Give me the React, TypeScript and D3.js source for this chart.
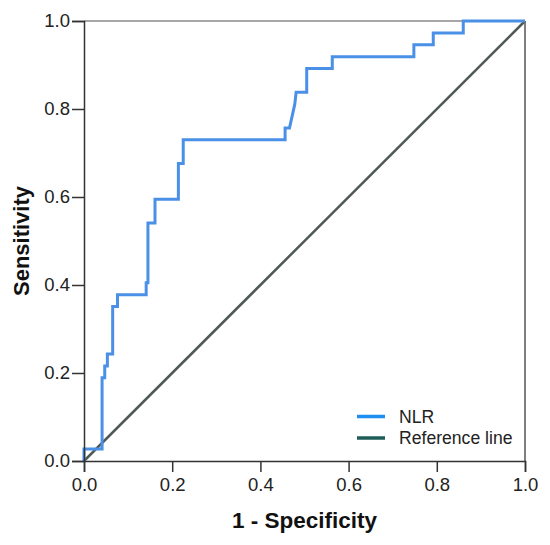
import React, { useEffect, useRef } from 'react';
import * as d3 from 'd3';

// ROC curve vertices for NLR (1 - specificity, sensitivity)
const nlrFpr = [
  0, 0, 0.041, 0.041, 0.047, 0.047, 0.053, 0.053, 0.065, 0.065, 0.076, 0.076,
  0.141, 0.141, 0.145, 0.145, 0.161, 0.161, 0.214, 0.214, 0.225, 0.225, 0.456,
  0.456, 0.466, 0.478, 0.481, 0.505, 0.505, 0.563, 0.563, 0.748, 0.748, 0.792,
  0.792, 0.86, 0.86, 1,
];
const nlrTpr = [
  0, 0.027, 0.027, 0.189, 0.189, 0.216, 0.216, 0.243, 0.243, 0.351, 0.351, 0.378,
  0.378, 0.405, 0.405, 0.541, 0.541, 0.595, 0.595, 0.676, 0.676, 0.73, 0.73,
  0.757, 0.757, 0.811, 0.838, 0.838, 0.892, 0.892, 0.919, 0.919, 0.946, 0.946,
  0.973, 0.973, 1, 1,
];
const refLine = [0, 1];
const ticks = [0, 0.2, 0.4, 0.6, 0.8, 1.0];
const legendItems = [
  { label: 'NLR', color: '#1e8ff0' },
  { label: 'Reference line', color: '#1f5e58' },
];

function RocChart() {
  const svgRef = useRef<SVGSVGElement>(null);
  const width = 550;
  const height = 545;

  useEffect(() => {
    if (!svgRef.current) return;
    d3.select(svgRef.current).selectAll('*').remove();

    const left = 84;
    const right = 525;
    const top = 21;
    const bottom = 461;
    const font = "'Liberation Sans', Arial, sans-serif";

    const x = d3.scaleLinear().domain([0, 1]).range([left, right]);
    const y = d3.scaleLinear().domain([0, 1]).range([bottom, top]);

    const svg = d3.select(svgRef.current).attr('width', width).attr('height', height);

    svg.append('rect').attr('width', width).attr('height', height).attr('fill', '#fff');

    // frame: top and right borders
    svg
      .append('line')
      .attr('x1', left)
      .attr('x2', right)
      .attr('y1', top)
      .attr('y2', top)
      .attr('stroke', '#8a8a8a')
      .attr('stroke-width', 1.5);
    svg
      .append('line')
      .attr('x1', right)
      .attr('x2', right)
      .attr('y1', top)
      .attr('y2', bottom)
      .attr('stroke', '#555')
      .attr('stroke-width', 1.5);

    // reference diagonal
    svg
      .append('line')
      .attr('x1', x(refLine[0]))
      .attr('y1', y(refLine[0]))
      .attr('x2', x(refLine[1]))
      .attr('y2', y(refLine[1]))
      .attr('stroke', '#4f5a55')
      .attr('stroke-width', 2.5);

    // NLR curve
    const pts: [number, number][] = nlrFpr.map((f, i) => [f, nlrTpr[i]]);
    const line = d3
      .line<[number, number]>()
      .x((d) => x(d[0]))
      .y((d) => y(d[1]));
    svg
      .append('path')
      .attr('d', line(pts) || '')
      .attr('fill', 'none')
      .attr('stroke', '#4a90e6')
      .attr('stroke-width', 3)
      .attr('stroke-linejoin', 'miter');

    // axes
    const xAxis = svg
      .append('g')
      .attr('transform', `translate(0,${bottom})`)
      .call(
        d3
          .axisBottom(x)
          .tickValues(ticks)
          .tickFormat(d3.format('.1f'))
          .tickSize(11)
          .tickPadding(6)
      );
    const yAxis = svg
      .append('g')
      .attr('transform', `translate(${left},0)`)
      .call(
        d3
          .axisLeft(y)
          .tickValues(ticks)
          .tickFormat(d3.format('.1f'))
          .tickSize(12)
          .tickPadding(2)
      );
    [xAxis, yAxis].forEach((g) => {
      g.select('.domain').attr('stroke', '#333').attr('stroke-width', 1.5);
      g.selectAll('.tick line').attr('stroke', '#333').attr('stroke-width', 1.5);
      g.selectAll('.tick text')
        .attr('fill', '#222')
        .style('font-family', font)
        .style('font-size', '18.5px');
    });

    // axis titles
    svg
      .append('text')
      .attr('x', (left + right) / 2)
      .attr('y', 528)
      .attr('text-anchor', 'middle')
      .style('font-family', font)
      .style('font-size', '22.5px')
      .style('font-weight', 'bold')
      .attr('fill', '#111')
      .text('1 - Specificity');
    svg
      .append('text')
      .attr('transform', `translate(29,${(top + bottom) / 2}) rotate(-90)`)
      .attr('text-anchor', 'middle')
      .style('font-family', font)
      .style('font-size', '22px')
      .style('font-weight', 'bold')
      .attr('fill', '#111')
      .text('Sensitivity');

    // legend
    const legend = svg
      .selectAll('.legend')
      .data(legendItems)
      .enter()
      .append('g')
      .attr('class', 'legend')
      .attr('transform', (d, i) => `translate(357, ${416.5 + i * 21.5})`);
    legend
      .append('line')
      .attr('x1', 0)
      .attr('x2', 28)
      .attr('stroke', (d) => d.color)
      .attr('stroke-width', 3.5);
    legend
      .append('text')
      .attr('x', 42)
      .attr('y', 6)
      .style('font-family', font)
      .style('font-size', '17.6px')
      .attr('fill', '#222')
      .text((d) => d.label);
  }, []);

  return <svg ref={svgRef} style={{ position: 'absolute', left: 0, top: 0 }}></svg>;
}

export default function App() {
  return <RocChart />;
}
